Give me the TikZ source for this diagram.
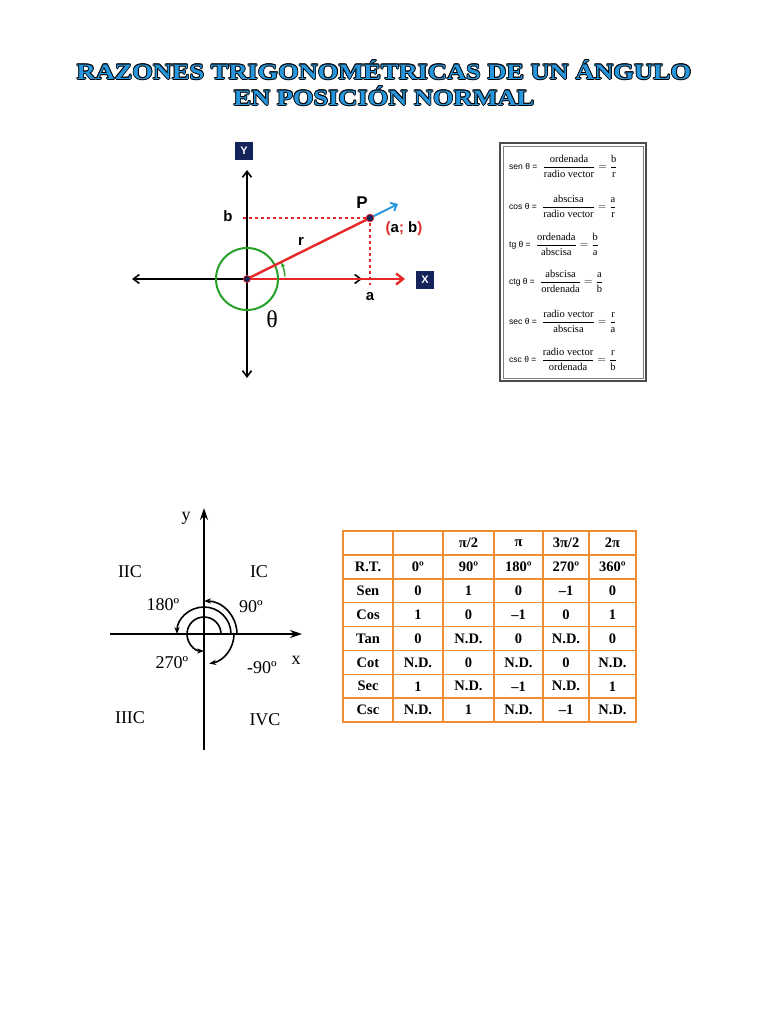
\documentclass[tikz,border=0pt]{standalone}
\usepackage{amsmath}
\usepackage{fontspec}
\setmainfont{Liberation Serif}
\newfontfamily\sans{Liberation Sans}
\usetikzlibrary{arrows.meta}
\definecolor{navy}{RGB}{20,35,90}
\definecolor{ored}{RGB}{230,40,40}
\definecolor{tblue}{RGB}{40,150,220}
\definecolor{gr}{RGB}{40,160,40}
\definecolor{orng}{RGB}{240,140,50}
\tikzset{
  lbl/.style={font=\sans\bfseries\fontsize{15}{15}\selectfont},
  boxl/.style={fill=navy,text=white,font=\sans\bfseries\fontsize{11}{11}\selectfont,minimum size=18pt,inner sep=0pt},
  frm/.style={font=\fontsize{10.5}{11}\selectfont,anchor=west,inner sep=0pt},
  ql/.style={font=\fontsize{18}{18}\selectfont},
  tc/.style={font=\bfseries\fontsize{14.5}{14.5}\selectfont},
  ax/.style={line width=1.6pt},
  tl/.style={orng,line width=1.5pt}
}
\newcommand{\ttl}[3]{%
 \foreach \dx/\dy in {-0.8/0,0.8/0,0/-0.8,0/0.8,-0.6/-0.6,0.6/0.6,-0.6/0.6,0.6/-0.6}{
  \node[font=\bfseries\fontsize{22}{22}\selectfont,text=black] at ([shift={(\dx pt,\dy pt)}]#1,#2) {\scalebox{1.2}[1]{#3}};}
 \node[font=\bfseries\fontsize{22}{22}\selectfont,text=tblue] at (#1,#2) {\scalebox{1.2}[1]{#3}};}
\begin{document}
\begin{tikzpicture}[x=1pt,y=-1pt]
\useasboundingbox[fill=white] (0,0) rectangle (768,1024);
\ttl{384}{70}{RAZONES TRIGONOMÉTRICAS DE UN ÁNGULO}
\ttl{384}{96}{EN POSICIÓN NORMAL}
% diagram 1
\coordinate (O) at (247,279);
\coordinate (P) at (370,218);
\coordinate (L) at (132,279);
\coordinate (Xb) at (362,279);
\coordinate (Xr) at (405,279);
\coordinate (Yt) at (247,170);
\coordinate (Yb) at (247,378);
\draw[ax,<->,>={Straight Barb[length=6pt,width=9pt]}] (L) -- (Xb);
\draw[ax,<->,>={Straight Barb[length=6pt,width=9pt]}] (Yt) -- (Yb);
\draw[ored,line width=2.4pt,-{Straight Barb[length=7pt,width=11pt]}] (O) -- (Xr);
\draw[gr,line width=2pt] (O) circle (31);
\draw[gr,line width=1.4pt,-{Stealth[length=5pt]}] ([shift={(-4:38)}]O) arc[start angle=-4,end angle=-26,radius=38];
\coordinate (Pb) at (243,218);
\coordinate (Pa) at (370,285);
\draw[ored,line width=1.3pt,dashed] (Pb) -- (P) -- (Pa);
\draw[tblue,line width=2pt,-{Straight Barb[length=5pt,width=9pt]}] (P) -- (398,204);
\draw[ored,line width=2.4pt] (O) -- (P);
\draw[ored,thick,fill=navy] (O) circle (3.5);
\draw[ored,thick,fill=navy] (P) circle (3.8);
\node[boxl] (Y) at (244,151) {Y};
\node[boxl] (X) at (425,280) {X};
\node[lbl] (b) at (228,216) {b};
\node[lbl] (a) at (370,297) {a};
\node[lbl] (r) at (301,241) {r};
\node[lbl,font=\sans\bfseries\fontsize{17}{17}\selectfont] (Pl) at (362,203) {P};
\node[lbl,text=ored] (ab) at (404,229) {(\textcolor{black}{a}; \textcolor{black}{b})};
\node[font=\fontsize{24}{24}\selectfont] (th) at (272,319) {θ};
% formulas
\draw[line width=1.5pt,gray!60!black] (500,143) rectangle (646,381);
\draw[gray] (503,146) rectangle (643,378);
\foreach \y/\f/\nu/\de/\nn/\dd in {166/sen/ordenada/radio vector/b/r,206/cos/abscisa/radio vector/a/r,244/tg/ordenada/abscisa/b/a,281/ctg/abscisa/ordenada/a/b,321/sec/radio vector/abscisa/r/a,359/csc/radio vector/ordenada/r/b}
  \node[frm] at (509,\y) {{\sans\fontsize{8.5}{8.5}\selectfont\f\ θ =}\ \ $\dfrac{\text{\nu}}{\text{\de}}=\dfrac{\text{\nn}}{\text{\dd}}$};
% diagram 2
\coordinate (O2) at (204,634);
\draw[ax,-{Stealth[length=12pt,width=8pt]}] (204,750) -- (204,508);
\draw[ax,-{Stealth[length=12pt,width=8pt]}] (110,634) -- (302,634);
\draw[ax,-{Stealth[length=7pt]}] (237,634) arc[start angle=0,end angle=-90,radius=33];
\draw[ax,-{Stealth[length=7pt]}] (231,634) arc[start angle=0,end angle=-180,radius=27];
\draw[ax,-{Stealth[length=7pt]}] (221,634) arc[start angle=0,end angle=-270,radius=17];
\draw[ax,-{Stealth[length=7pt]}] (234,634) arc[start angle=0,end angle=80,radius=30];
\node[ql] (ly) at (186,518) {y};
\node[ql] (lx) at (296,660) {x};
\node[ql] (q2) at (130,572) {IIC};
\node[ql] (q1) at (259,572) {IC};
\node[ql] (q3) at (130,718) {IIIC};
\node[ql] (q4) at (265,720) {IVC};
\node[ql] (a180) at (163,605) {180º};
\node[ql] (a90) at (251,607) {90º};
\node[ql] (a270) at (172,663) {270º};
\node[ql] (am90) at (262,668) {-90º};
% table
\draw[tl] (343,531) rectangle (636,722);
\foreach \x in {393,443,494,543,589} \draw[tl] (\x,531) -- (\x,722);
\foreach \k in {1,...,7} \draw[tl] (343,531+23.875*\k) -- (636,531+23.875*\k);
\node[tc] (h2) at (468.5,543) {π/2};
\node[tc] (h3) at (518.5,543) {π};
\node[tc] (h4) at (566,543) {3π/2};
\node[tc] (h5) at (612.5,543) {2π};
\def\cx{{368,418,468.5,518.5,566,612.5}}
\foreach \r [count=\i from 1] in {{R.T.,0º,90º,180º,270º,360º},{Sen,0,1,0,–1,0},{Cos,1,0,–1,0,1},{Tan,0,N.D.,0,N.D.,0},{Cot,N.D.,0,N.D.,0,N.D.},{Sec,1,N.D.,–1,N.D.,1},{Csc,N.D.,1,N.D.,–1,N.D.}}{
  \pgfmathsetmacro\yy{543+23.875*\i}
  \foreach \c [count=\j from 0] in \r {
    \pgfmathsetmacro\xx{\cx[\j]}
    \node[tc] at (\xx,\yy) {\c};
  }}
\end{tikzpicture}
\end{document}
